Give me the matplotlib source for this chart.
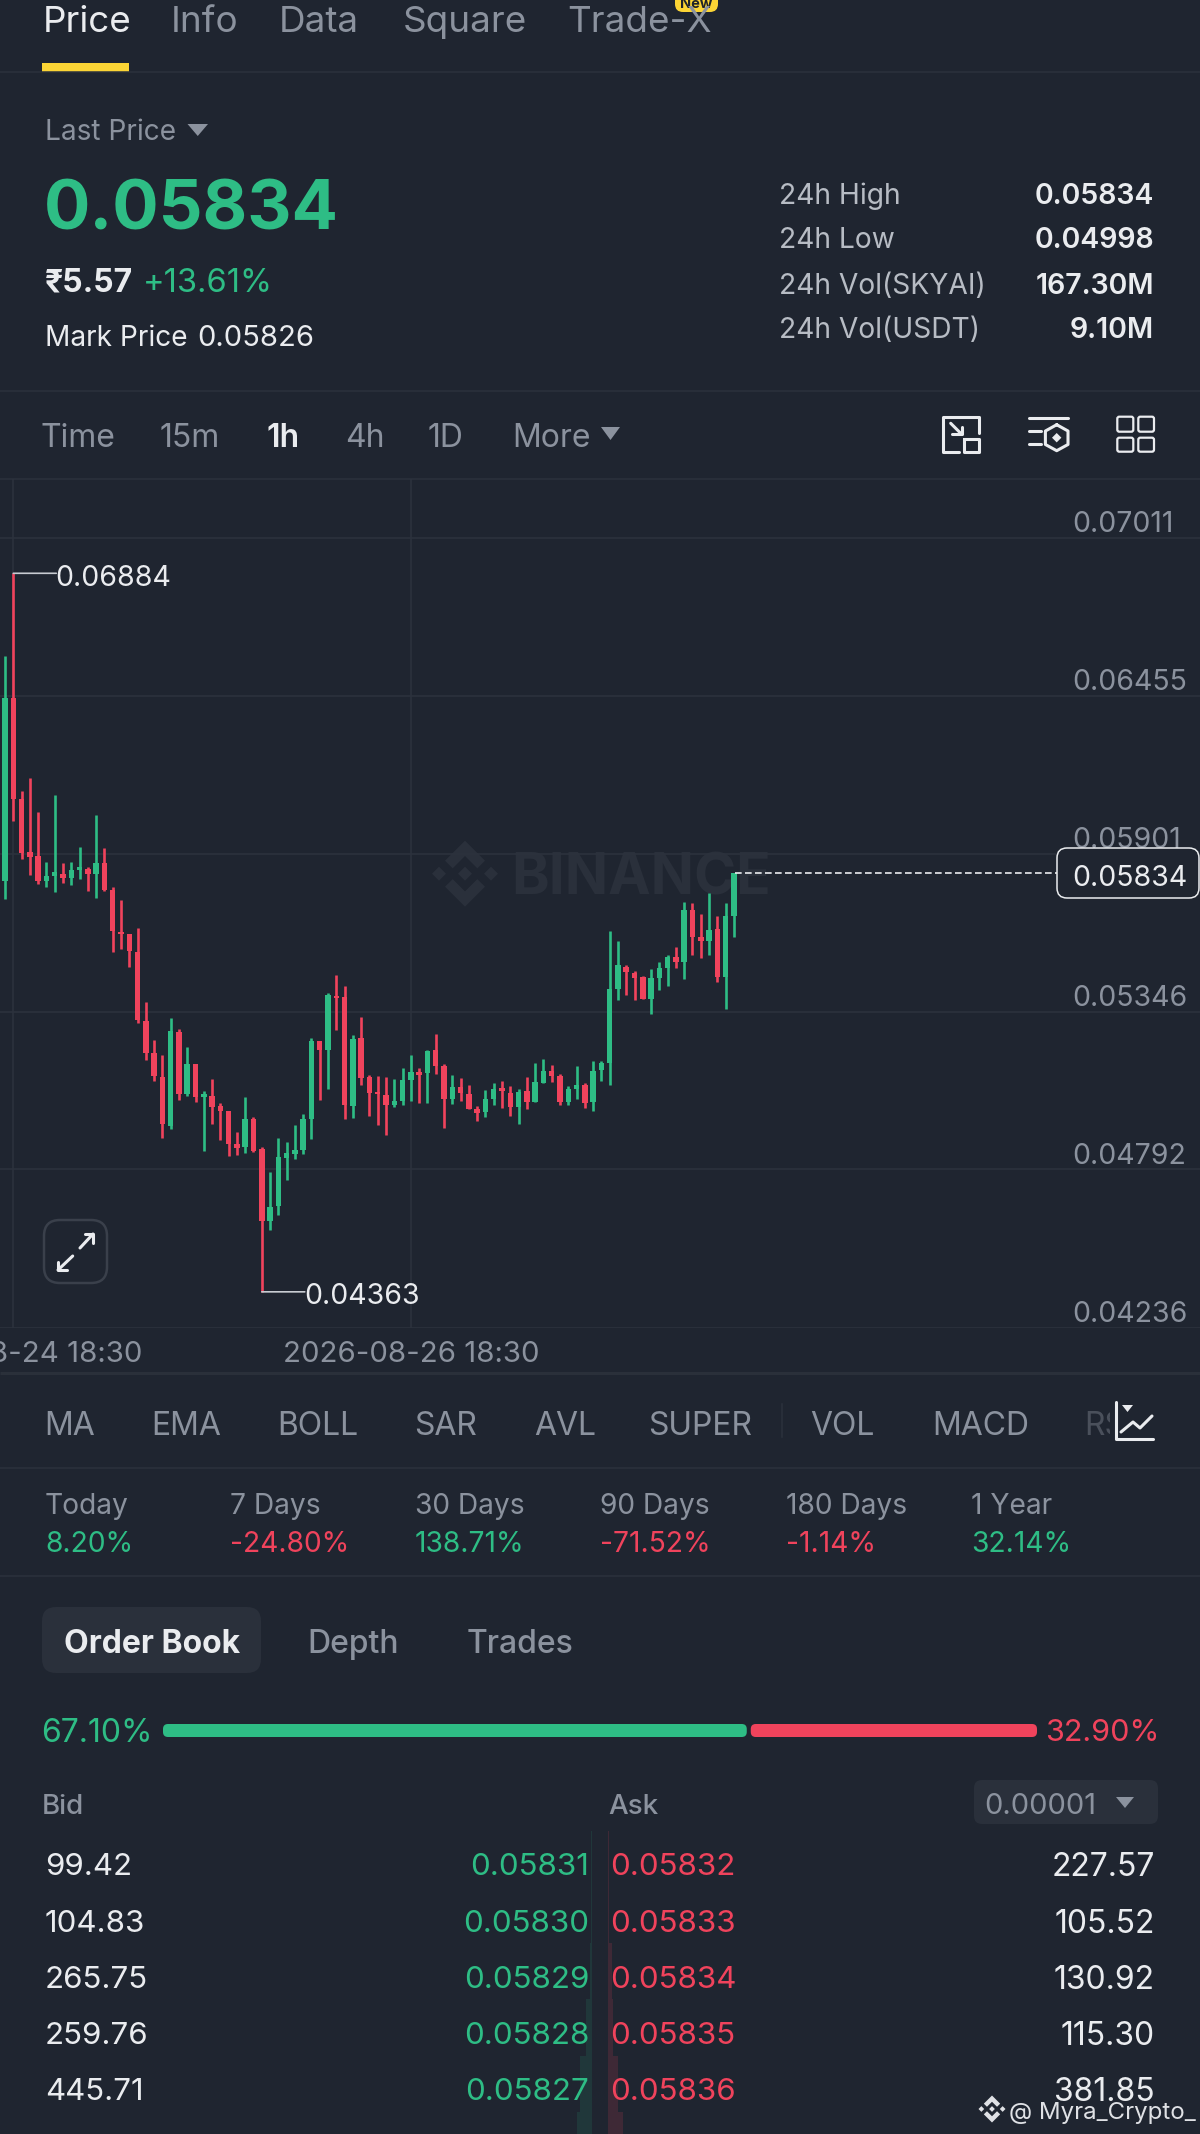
import numpy as np
import matplotlib
matplotlib.use("Agg")
import matplotlib.pyplot as plt
from matplotlib.patches import FancyBboxPatch, Polygon, Rectangle

plt.rcParams['font.family'] = ['Inter', 'Noto Sans', 'DejaVu Sans']

# ---------- data (prices in units of 0.00001) ----------
opens = [5806,6449,6093,5907,5893,5806,5824,5830,5816,5844,5848,5830,5867,5773,5627,5618,5557,5314,5200,5118,4946,5275,5057,5161,5045,5050,5015,4997,4880,4872,4970,4862,4610,4663,4833,4845,4859,4968,5243,5210,5402,5399,5015,5252,5117,5065,5053,5017,5032,5106,5135,5131,5211,5155,5039,5080,5058,5003,4992,5040,5077,5061,5010,5067,5030,5095,5139,5120,5030,5074,5087,5028,5140,5166,5426,5504,5483,5468,5389,5464,5498,5537,5519,5702,5609,5595,5635,5469,5682]
highs = [6595,6886,6122,6168,6049,5871,6106,5869,5873,5924,5855,6038,5921,5783,5738,5620,5641,5379,5246,5194,5323,5284,5222,5162,5066,5111,5026,4998,4924,5046,4976,4869,4782,4901,4887,4947,4985,5254,5244,5413,5474,5438,5264,5327,5122,5121,5117,5109,5148,5194,5148,5211,5266,5162,5122,5114,5088,5016,5072,5097,5101,5085,5073,5117,5165,5180,5159,5127,5084,5157,5095,5172,5173,5628,5595,5509,5489,5470,5495,5522,5544,5572,5730,5727,5688,5762,5681,5727,5832]
lows = [5741,6016,5883,5825,5794,5785,5768,5799,5791,5811,5771,5745,5770,5554,5568,5504,5305,5177,5101,4902,4935,5036,5051,5030,4858,4951,4895,4840,4843,4851,4854,4362,4578,4632,4755,4830,4846,4899,5036,5076,5282,4969,4974,5090,4980,4948,4913,5010,5017,5033,5024,5024,5127,4937,5022,5032,5003,4963,4976,5019,5006,4981,4950,5004,5029,5094,5100,5017,5018,5039,5008,4996,5102,5090,5387,5406,5387,5389,5338,5422,5436,5498,5462,5544,5535,5546,5451,5357,5609]
closes = [6447,6093,5902,5890,5806,5823,5835,5816,5844,5853,5830,5867,5773,5629,5618,5560,5317,5200,5120,4951,5278,5057,5161,5045,5056,5012,4998,4880,4868,4968,4858,4612,4661,4835,4848,4859,4969,5243,5210,5406,5393,5017,5250,5114,5060,5057,5017,5031,5105,5134,5125,5209,5154,5039,5080,5059,5004,4990,5039,5076,5067,5010,5065,5028,5099,5139,5121,5030,5076,5087,5024,5139,5165,5426,5509,5484,5465,5390,5464,5498,5538,5520,5702,5609,5595,5632,5469,5682,5832]
price_ticks = [0.07011, 0.06455, 0.05901, 0.05346, 0.04792, 0.04236]
time_ticks = [1, 49]
time_labels = ['2026-08-24 18:30', '2026-08-26 18:30']
high_label, low_label = '0.06884', '0.04363'
last_price = 0.05834

tabs = ['Price', 'Info', 'Data', 'Square', 'Trade-X']
stats_labels = ['24h High', '24h Low', '24h Vol(SKYAI)', '24h Vol(USDT)']
stats_values = ['0.05834', '0.04998', '167.30M', '9.10M']
intervals = ['Time', '15m', '1h', '4h', '1D', 'More']
indicators = ['MA', 'EMA', 'BOLL', 'SAR', 'AVL', 'SUPER', 'VOL', 'MACD']
periods = ['Today', '7 Days', '30 Days', '90 Days', '180 Days', '1 Year']
period_values = ['8.20%', '-24.80%', '138.71%', '-71.52%', '-1.14%', '32.14%']
book_tabs = ['Order Book', 'Depth', 'Trades']
bid_share, ask_share = 67.10, 32.90
bid_qty = ['99.42', '104.83', '265.75', '259.76', '445.71']
bid_px = ['0.05831', '0.05830', '0.05829', '0.05828', '0.05827']
ask_px = ['0.05832', '0.05833', '0.05834', '0.05835', '0.05836']
ask_qty = ['227.57', '105.52', '130.92', '115.30', '381.85']
bid_depth = [1, 1, 2, 6, 12, 15]
ask_depth = [1, 1, 4, 5, 10, 15]

# ---------- style ----------
BG = '#1f2530'; GRID = '#2c323d'; GREEN = '#2ebd85'; RED = '#f0435c'
WHITE = '#eaecef'; GREY = '#8b929e'; LABEL = '#b7bcc4'; YELLOW = '#fcd535'; WM = '#2a303b'
W, H = 1200, 2134

fig = plt.figure(figsize=(W / 100, H / 100), dpi=100, facecolor=BG)
ui = fig.add_axes([0, 0, 1, 1], zorder=0)
ui.set_xlim(0, W); ui.set_ylim(H, 0); ui.axis('off')


def T(x, y, s, size=21, color=GREY, ha='left', weight='normal', **kw):
    return ui.text(x, y, s, fontsize=size, color=color, ha=ha, va='center_baseline', fontweight=weight, **kw)


def hline(y, x0=0, x1=W, lw=1.1, color=GRID):
    ui.plot([x0, x1], [y, y], color=color, lw=lw, solid_capstyle='butt')


def tri(x0, x1, y0, y1, color=GREY):
    ui.add_patch(Polygon([(x0, y0), (x1, y0), ((x0 + x1) / 2, y1)], closed=True, color=color, lw=0))


def rbox(x0, y0, x1, y1, r, fc='none', ec='none', lw=0, zorder=1):
    ui.add_patch(FancyBboxPatch((x0 + r, y0 + r), x1 - x0 - 2 * r, y1 - y0 - 2 * r,
                                boxstyle=f'round,pad={r},rounding_size={r}', fc=fc, ec=ec, lw=lw, zorder=zorder))


def stroke(pts, color=WHITE, lw=2.2, closed=False):
    pts = list(pts) + ([pts[0]] if closed else [])
    xs, ys = zip(*pts)
    ui.plot(xs, ys, color=color, lw=lw, solid_capstyle='round', solid_joinstyle='round')


def logo(cx, cy, s, color, zorder=1):
    k = s / 33.0
    polys = [[(-33, 0), (-26, -7), (-19, 0), (-26, 7)], [(19, 0), (26, -7), (33, 0), (26, 7)], [(-7, 0), (0, -7), (7, 0), (0, 7)],
             [(0, -33), (20, -13), (12.3, -5.4), (0, -17.7), (-12.3, -5.4), (-20, -13)],
             [(0, 33), (20, 13), (12.3, 5.4), (0, 17.7), (-12.3, 5.4), (-20, 13)]]
    for p in polys:
        ui.add_patch(Polygon([(cx + a * k, cy + b * k) for a, b in p], closed=True, fc=color, lw=0, zorder=zorder))


# ---------- top tabs ----------
rbox(675, -12, 718, 12, 8, fc=YELLOW)
T(696.5, 3, 'New', size=10.5, color='#1e2329', ha='center', weight='bold', zorder=3)
for x, s, c, in zip([43, 171, 279, 403, 567], tabs, [WHITE, GREY, GREY, GREY, GREY]):
    T(x, 19, s, size=26.5, color=c)
ui.add_patch(Rectangle((42, 63), 87, 9, color=YELLOW, lw=0))
hline(72); hline(391); hline(479)

# ---------- price block ----------
T(45, 129, 'Last Price', size=20.2)
tri(187.5, 208, 124, 136)
T(44, 204, '0.05834', size=49.5, color=GREEN, weight='bold')
T(45, 280, '₹5.57', size=23, color=WHITE, weight='bold')
T(143, 280, '+13.61%', size=23.5, color=GREEN)
T(45, 336, 'Mark Price', size=20.2, color=WHITE)
T(197, 336, '0.05826', size=21, color=WHITE)
for y, a, b in zip([193, 238, 283, 328], stats_labels, stats_values):
    T(779, y, a, size=20.3, color=LABEL)
    T(1154, y, b, size=20.5, color=WHITE, ha='right', weight='semibold')

# ---------- interval row ----------
for x, s, c, w in zip([41, 160, 267, 345, 428, 512], intervals, [GREY, GREY, WHITE, GREY, GREY, GREY],
                      ['normal', 'normal', 'semibold', 'normal', 'normal', 'normal']):
    T(x, 435, s, size=23, color=c, weight=w)
tri(601, 620, 427, 440)
stroke([(979.3, 433), (979.3, 416.7), (943.3, 416.7), (943.3, 451.7), (959.3, 451.7)])
stroke([(964.3, 439.3), (979.3, 439.3), (979.3, 451.7), (964.3, 451.7)], closed=True)
stroke([(950.7, 423.3), (961.7, 434.3)]); stroke([(961.7, 426.7), (961.7, 434.3), (951.7, 434.3)])
stroke([(1029, 418.3), (1067.7, 418.3)]); stroke([(1029, 430.7), (1040.7, 430.7)]); stroke([(1029, 444), (1040.7, 444)])
stroke([(1056.7, 424.7), (1068, 431), (1068, 444.5), (1056.7, 450.7), (1045.4, 444.5), (1045.4, 431)], closed=True)
ui.add_patch(Polygon([(1056.7, 433), (1061.4, 437.7), (1056.7, 442.4), (1052, 437.7)], closed=True, fc=WHITE, lw=0))
for xa, xb in [(1117.3, 1133.3), (1138.3, 1154)]:
    for ya, yb in [(416.7, 431.7), (437.7, 451.7)]:
        rbox(xa, ya, xb, yb, 2, ec=WHITE, lw=1.6)

# ---------- watermark ----------
logo(465, 873.7, 33, WM)
T(511, 873.5, 'BINANCE', size=41, color=WM, weight='bold')

# ---------- candlestick chart ----------
O, Hi, Lo, C = [np.array(a) / 1e5 for a in (opens, highs, lows, closes)]
idx = np.arange(len(O))
up = C >= O
colors = np.where(up, GREEN, RED)
chart_top, chart_bot = 479, 1327.7
ax = fig.add_axes([0, (H - chart_bot) / H, 1, (chart_bot - chart_top) / H], zorder=2)
ax.patch.set_alpha(0)
ax.set_xlim(-5 / 8.283, (W - 5) / 8.283)
ax.set_ylim(0.04236, 0.04236 + (chart_bot - chart_top) * 0.00555 / 158)
for sp in ax.spines.values():
    sp.set_visible(False)
ax.set_yticks(price_ticks); ax.set_xticks(time_ticks)
ax.tick_params(length=0, labelleft=False, labelbottom=False)
ax.grid(True, color=GRID, lw=1.2, zorder=0)
ax.set_axisbelow(True)
ax.vlines(idx, Lo, Hi, colors=colors, lw=1.9, zorder=3)
ax.bar(idx, np.abs(C - O), bottom=np.minimum(O, C), width=0.66, color=colors, lw=0, zorder=3)

ytrans = ax.get_yaxis_transform()
for p in price_ticks:
    ax.annotate(f'{p:.5f}', xy=(1, p), xycoords=ytrans, xytext=(-128, 16), textcoords='offset pixels',
                ha='left', va='center_baseline', fontsize=20.5, color=GREY, annotation_clip=False)
xtrans = ax.get_xaxis_transform()
for t, s in zip(time_ticks, time_labels):
    ax.annotate(s, xy=(t, 0), xycoords=xtrans, xytext=(0, -24), textcoords='offset pixels',
                ha='center', va='center_baseline', fontsize=21.2, color=GREY, annotation_clip=False)

i_hi, i_lo = int(np.argmax(Hi)), int(np.argmin(Lo))
for i, val, s in [(i_hi, Hi[i_hi], high_label), (i_lo, Lo[i_lo], low_label)]:
    ax.annotate('', xy=(i, val), xytext=(43, 0), textcoords='offset pixels',
                arrowprops=dict(arrowstyle='-', color='#c8ccd2', lw=1.2, shrinkA=0, shrinkB=0))
    ax.annotate(s, xy=(i, val), xytext=(42, -2), textcoords='offset pixels', ha='left', va='center_baseline',
                fontsize=20.5, color=WHITE, zorder=5)

ax.plot([idx[-1] + 0.1, (1057 - 5) / 8.283], [last_price, last_price], color=WHITE, lw=1.2, ls=(0, (4, 2)), zorder=4)
ui2 = fig.add_axes([0, 0, 1, 1], zorder=3)
ui2.set_xlim(0, W); ui2.set_ylim(H, 0); ui2.axis('off')
ui2.add_patch(FancyBboxPatch((1067, 858), 122, 30, boxstyle='round,pad=10,rounding_size=10', fc=BG, ec=WHITE, lw=1.1))
ui2.text(1072, 875, '0.05834', fontsize=20.5, color=WHITE, ha='left', va='center_baseline')
ui2.add_patch(FancyBboxPatch((56, 1232), 39, 39, boxstyle='round,pad=12,rounding_size=16', fc='none', ec='#3a404b', lw=1.8))
ui2.plot([80, 93], [1248, 1234], color=WHITE, lw=2.2, solid_capstyle='round')
ui2.plot([85, 93, 93], [1234, 1234, 1243], color=WHITE, lw=2.2, solid_capstyle='round')
ui2.plot([72.7, 58], [1256, 1270], color=WHITE, lw=2.2, solid_capstyle='round')
ui2.plot([58, 58, 66.7], [1262, 1270, 1270], color=WHITE, lw=2.2, solid_capstyle='round')

# ---------- indicator row ----------
hline(1372.5, lw=2.2, color='#2a303a')
for x, s in zip([44, 151, 277, 414, 534, 648, 810, 932], indicators):
    T(x, 1423, s, size=23)
ui.plot([782, 782], [1404, 1437], color=GRID, lw=1.1)
clip = Rectangle((1080, 1400), 30, 50, transform=ui.transData)
rt = T(1084, 1423, 'RSI', size=23, color='#4a505b')
rt.set_clip_path(clip); rt.set_clip_on(True)
stroke([(1116, 1402), (1116, 1439), (1153, 1439)])
stroke([(1121, 1432), (1133, 1422), (1140, 1428), (1152, 1416)])
ui.add_patch(Polygon([(1122, 1405), (1133, 1405), (1127.5, 1412)], closed=True, fc=WHITE, lw=0))
hline(1468)

# ---------- period row ----------
for x, a, b in zip([45, 230, 415, 600, 786, 971], periods, period_values):
    T(x, 1504, a, size=20.3)
    T(x, 1542, b, size=20.3, color=RED if b.startswith('-') else GREEN)
hline(1576)

# ---------- order book ----------
rbox(42, 1607, 261, 1673, 14, fc='#2a303b')
for x, s, c, w in zip([64, 307, 467], book_tabs, [WHITE, GREY, GREY], ['bold', 'medium', 'medium']):
    T(x, 1641, s, size=23, color=c, weight=w)
T(41, 1730, f'{bid_share:.2f}%', size=23, color=GREEN)
T(1159, 1730, f'{ask_share:.2f}%', size=22, color=RED, ha='right')
bar_w = 870.0
gw = bar_w * bid_share / 100
aw = bar_w * ask_share / 100
rbox(163, 1724, 163 + gw, 1737, 5, fc=GREEN)
rbox(163 + gw + 4, 1724, 163 + gw + 4 + aw, 1737, 5, fc=RED)
T(42, 1804, 'Bid', size=20, weight='medium')
T(608, 1804, 'Ask', size=20, weight='medium')
rbox(974, 1780, 1158, 1824, 8, fc='#2a303b')
T(984, 1804, '0.00001', size=21)
tri(1116, 1134, 1797, 1808)
band_edges = [1831, 1887, 1943, 1999, 2056, 2112, 2134]
for k, (g, r) in enumerate(zip(bid_depth, ask_depth)):
    y0, y1 = band_edges[k], band_edges[k + 1]
    ui.add_patch(Rectangle((592 - g, y0), g, y1 - y0, fc=GREEN, alpha=0.12, lw=0))
    ui.add_patch(Rectangle((608, y0), r, y1 - y0, fc=RED, alpha=0.15, lw=0))
for k, y in enumerate([1864, 1921, 1977, 2033, 2089]):
    T(45, y, bid_qty[k], size=22.5, color=WHITE)
    T(589, y, bid_px[k], size=22.5, color=GREEN, ha='right')
    T(610, y, ask_px[k], size=22.5, color=RED)
    T(1155, y, ask_qty[k], size=23, color=WHITE, ha='right')

# ---------- footer watermark ----------
logo(992, 2109, 13.5, '#dfe1e5', zorder=4)
T(1009, 2110, '@ Myra_Crypto_', size=17.3, color='#dfe1e5', zorder=4)

fig.savefig('out.png', dpi=100, facecolor=BG)
